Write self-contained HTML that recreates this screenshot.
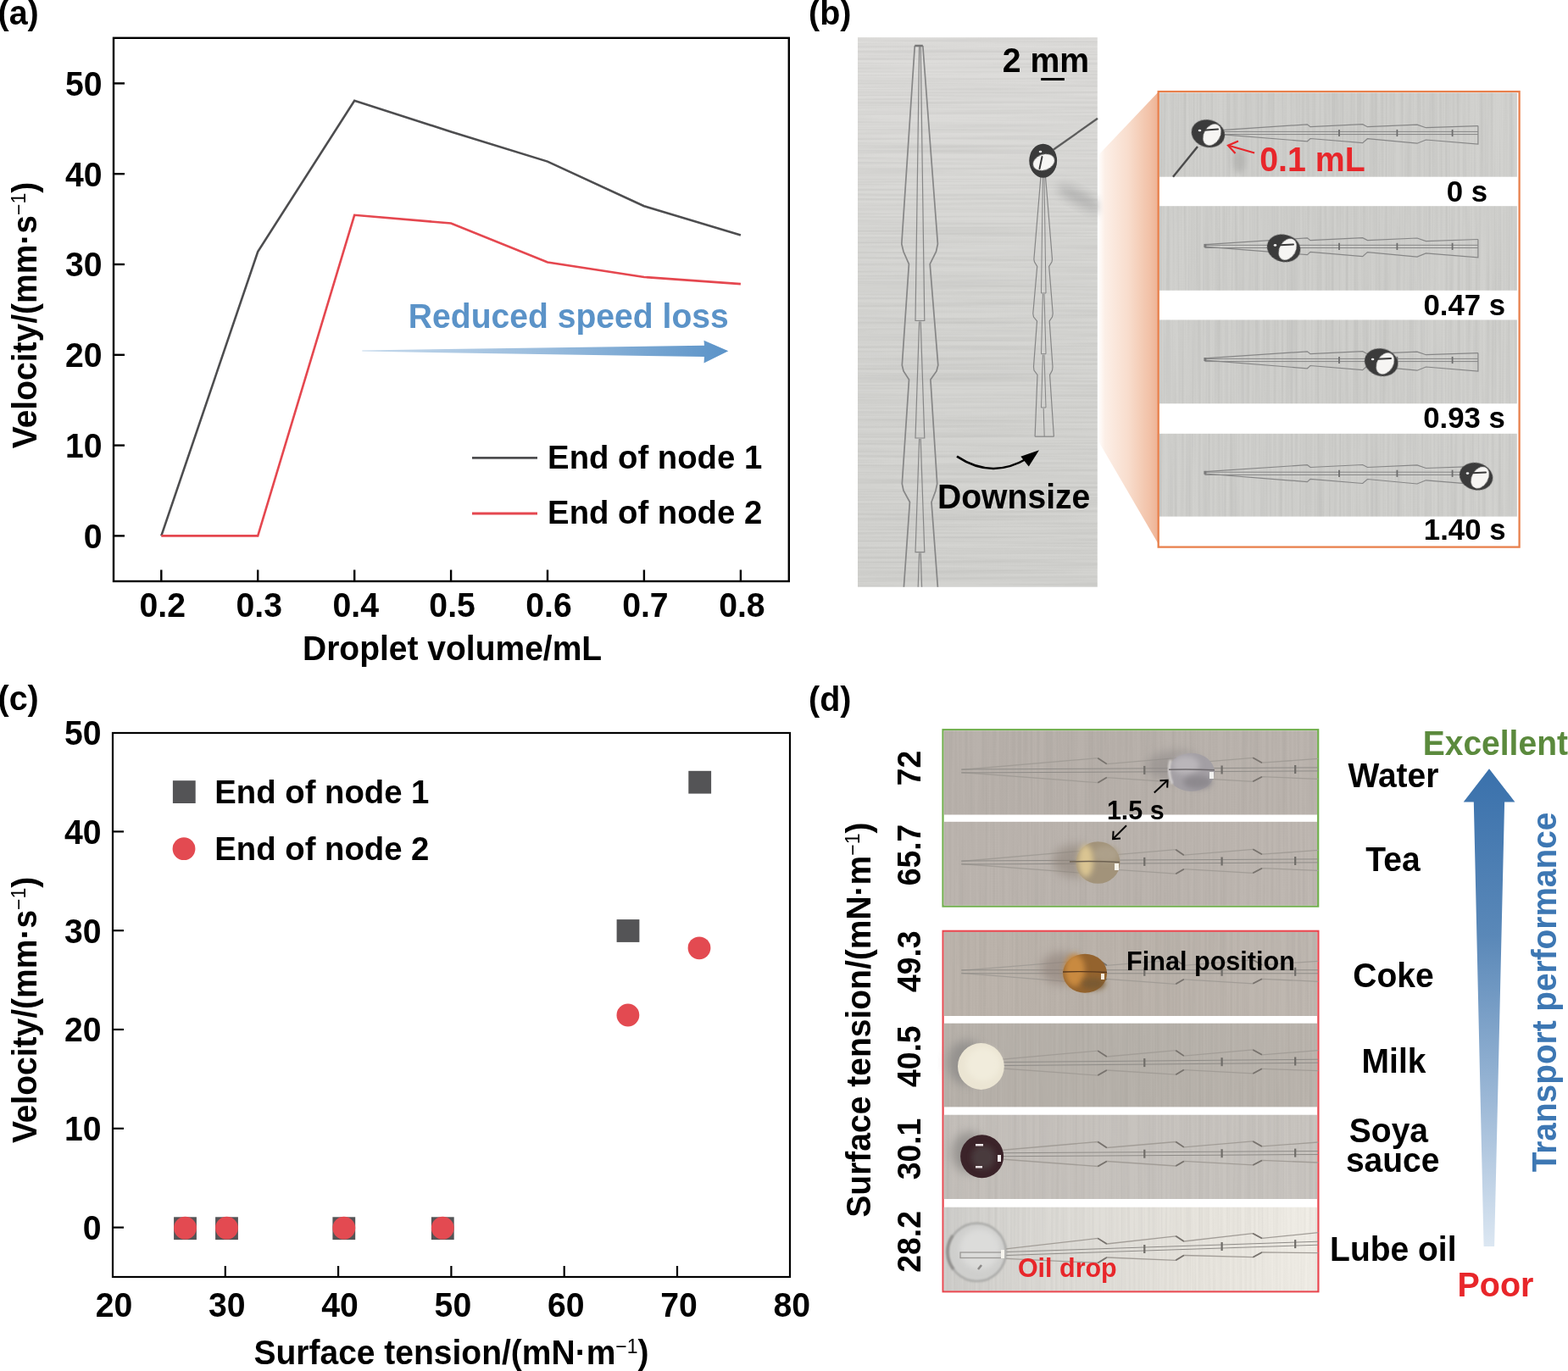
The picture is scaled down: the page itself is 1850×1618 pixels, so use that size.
<!DOCTYPE html>
<html><head><meta charset="utf-8"><title>Figure</title>
<style>
html,body{margin:0;padding:0;background:#fff;}
body{width:1850px;height:1618px;overflow:hidden;}
svg{display:block;font-family:"Liberation Sans", Arial, Helvetica, sans-serif;font-weight:bold;}
</style></head><body>
<svg width="1850" height="1618" viewBox="0 0 1850 1618">
<defs>
<linearGradient id="garr" x1="0" y1="0" x2="1" y2="0"><stop offset="0" stop-color="#5b93c8" stop-opacity="0.35"/><stop offset="0.5" stop-color="#5b93c8" stop-opacity="0.62"/><stop offset="1" stop-color="#5b93c8" stop-opacity="1"/></linearGradient>
<linearGradient id="gbl" x1="0" y1="0" x2="0" y2="1"><stop offset="0" stop-color="#dedddb"/><stop offset="0.45" stop-color="#d6d6d3"/><stop offset="1" stop-color="#d3d3d0"/></linearGradient>
<filter id="blur3" x="-50%" y="-50%" width="200%" height="200%"><feGaussianBlur stdDeviation="3"/></filter>
<filter id="blur05" x="-50%" y="-50%" width="200%" height="200%"><feGaussianBlur stdDeviation="0.6"/></filter>
<filter id="blur1" x="-50%" y="-50%" width="200%" height="200%"><feGaussianBlur stdDeviation="1"/></filter>
<filter id="blur6" x="-50%" y="-50%" width="200%" height="200%"><feGaussianBlur stdDeviation="6"/></filter>
<filter id="streakH" x="0" y="0" width="100%" height="100%"><feTurbulence type="fractalNoise" baseFrequency="0.004 0.35" numOctaves="2" seed="3" result="n"/><feColorMatrix in="n" type="matrix" values="0 0 0 0 0  0 0 0 0 0  0 0 0 0 0  0 0 0 0.12 -0.04" result="a"/><feComposite in="a" in2="SourceGraphic" operator="in"/></filter>
<filter id="streakV" x="0" y="0" width="100%" height="100%"><feTurbulence type="fractalNoise" baseFrequency="0.35 0.004" numOctaves="2" seed="5" result="n"/><feColorMatrix in="n" type="matrix" values="0 0 0 0 0  0 0 0 0 0  0 0 0 0 0  0 0 0 0.12 -0.04" result="a"/><feComposite in="a" in2="SourceGraphic" operator="in"/></filter>
<linearGradient id="gcon" x1="0" y1="0" x2="1" y2="0"><stop offset="0" stop-color="#fdf1ea" stop-opacity="0.0"/><stop offset="0.12" stop-color="#fcefe7"/><stop offset="0.5" stop-color="#f8ddcd"/><stop offset="0.85" stop-color="#f2c2a8"/><stop offset="1" stop-color="#eeb294"/></linearGradient>
<linearGradient id="gin" x1="0" y1="0" x2="1" y2="0"><stop offset="0" stop-color="#d1d1ce"/><stop offset="0.5" stop-color="#cfcfcc"/><stop offset="1" stop-color="#d2d2cf"/></linearGradient>
<linearGradient id="gdp" x1="0" y1="0" x2="1" y2="0"><stop offset="0" stop-color="#bfb9b3"/><stop offset="0.5" stop-color="#bdb6af"/><stop offset="1" stop-color="#c1bbb4"/></linearGradient>
<linearGradient id="gdl" x1="0" y1="0" x2="1" y2="0"><stop offset="0" stop-color="#cfcecb"/><stop offset="0.3" stop-color="#dddbd6"/><stop offset="0.7" stop-color="#e8e5de"/><stop offset="1" stop-color="#f1eee7"/></linearGradient>
<linearGradient id="garrow" x1="0" y1="0" x2="0" y2="1"><stop offset="0" stop-color="#3a71ac"/><stop offset="0.35" stop-color="#5a88b8"/><stop offset="0.7" stop-color="#9db9d7"/><stop offset="1" stop-color="#dce7f2"/></linearGradient>
<linearGradient id="gw" x1="0" y1="0" x2="1" y2="0"><stop offset="0" stop-color="#b9b2ac"/><stop offset="0.5" stop-color="#b8b1ab"/><stop offset="1" stop-color="#bcb5af"/></linearGradient>
<linearGradient id="gt" x1="0" y1="0" x2="1" y2="0"><stop offset="0" stop-color="#bcb5af"/><stop offset="0.5" stop-color="#bbb4ae"/><stop offset="1" stop-color="#bfb8b2"/></linearGradient>
<linearGradient id="gc" x1="0" y1="0" x2="1" y2="0"><stop offset="0" stop-color="#bcb4ac"/><stop offset="0.5" stop-color="#bbb3ab"/><stop offset="1" stop-color="#bfb8b1"/></linearGradient>
<linearGradient id="gm" x1="0" y1="0" x2="1" y2="0"><stop offset="0" stop-color="#b8b2ab"/><stop offset="0.5" stop-color="#b7b2ab"/><stop offset="1" stop-color="#bbb5ae"/></linearGradient>
<linearGradient id="gs" x1="0" y1="0" x2="1" y2="0"><stop offset="0" stop-color="#c4bfba"/><stop offset="0.5" stop-color="#c7c3be"/><stop offset="1" stop-color="#c9c5c0"/></linearGradient>
</defs>
<rect width="1850" height="1618" fill="#fff"/>
<rect x="134.0" y="44.8" width="796.8" height="641.2" fill="none" stroke="#000" stroke-width="2.4"/>
<line x1="134.0" y1="632.4" x2="147.0" y2="632.4" stroke="#000" stroke-width="2.4" />
<text transform="translate(120.5,646.8) scale(0.975,1)" font-size="40.21" text-anchor="end" fill="#000" >0</text>
<line x1="134.0" y1="525.6" x2="147.0" y2="525.6" stroke="#000" stroke-width="2.4" />
<text transform="translate(120.5,540.0) scale(0.975,1)" font-size="40.21" text-anchor="end" fill="#000" >10</text>
<line x1="134.0" y1="418.8" x2="147.0" y2="418.8" stroke="#000" stroke-width="2.4" />
<text transform="translate(120.5,433.2) scale(0.975,1)" font-size="40.21" text-anchor="end" fill="#000" >20</text>
<line x1="134.0" y1="312.0" x2="147.0" y2="312.0" stroke="#000" stroke-width="2.4" />
<text transform="translate(120.5,326.4) scale(0.975,1)" font-size="40.21" text-anchor="end" fill="#000" >30</text>
<line x1="134.0" y1="205.2" x2="147.0" y2="205.2" stroke="#000" stroke-width="2.4" />
<text transform="translate(120.5,219.6) scale(0.975,1)" font-size="40.21" text-anchor="end" fill="#000" >40</text>
<line x1="134.0" y1="98.4" x2="147.0" y2="98.4" stroke="#000" stroke-width="2.4" />
<text transform="translate(120.5,112.8) scale(0.975,1)" font-size="40.21" text-anchor="end" fill="#000" >50</text>
<line x1="190.3" y1="686.0" x2="190.3" y2="672.5" stroke="#000" stroke-width="2.4" />
<text transform="translate(191.8,728.2) scale(0.975,1)" font-size="40.21" text-anchor="middle" fill="#000" >0.2</text>
<line x1="304.2" y1="686.0" x2="304.2" y2="672.5" stroke="#000" stroke-width="2.4" />
<text transform="translate(305.7,728.2) scale(0.975,1)" font-size="40.21" text-anchor="middle" fill="#000" >0.3</text>
<line x1="418.2" y1="686.0" x2="418.2" y2="672.5" stroke="#000" stroke-width="2.4" />
<text transform="translate(419.7,728.2) scale(0.975,1)" font-size="40.21" text-anchor="middle" fill="#000" >0.4</text>
<line x1="532.1" y1="686.0" x2="532.1" y2="672.5" stroke="#000" stroke-width="2.4" />
<text transform="translate(533.6,728.2) scale(0.975,1)" font-size="40.21" text-anchor="middle" fill="#000" >0.5</text>
<line x1="646.0" y1="686.0" x2="646.0" y2="672.5" stroke="#000" stroke-width="2.4" />
<text transform="translate(647.5,728.2) scale(0.975,1)" font-size="40.21" text-anchor="middle" fill="#000" >0.6</text>
<line x1="759.9" y1="686.0" x2="759.9" y2="672.5" stroke="#000" stroke-width="2.4" />
<text transform="translate(761.4,728.2) scale(0.975,1)" font-size="40.21" text-anchor="middle" fill="#000" >0.7</text>
<line x1="873.9" y1="686.0" x2="873.9" y2="672.5" stroke="#000" stroke-width="2.4" />
<text transform="translate(875.4,728.2) scale(0.975,1)" font-size="40.21" text-anchor="middle" fill="#000" >0.8</text>
<text transform="translate(43.0,372.0) rotate(-90) scale(0.975,1)" font-size="40.00" text-anchor="middle" fill="#000" >Velocity/(mm&#183;s<tspan dy="-13" font-size="23.59" font-weight="normal">&#8722;1</tspan><tspan dy="13">)</tspan></text>
<text transform="translate(533.6,778.9) scale(0.975,1)" font-size="40.00" text-anchor="middle" fill="#000" >Droplet volume/mL</text>
<polyline points="190.3,632.4 304.2,297.0 418.2,118.7 532.1,155.4 646.0,190.6 759.9,243.2 873.9,277.6" fill="none" stroke="#4d4d4f" stroke-width="2.6" stroke-linejoin="miter" />
<polyline points="190.3,632.4 304.2,632.4 418.2,253.8 532.1,263.5 646.0,309.5 759.9,327.0 873.9,335.1" fill="none" stroke="#e5474f" stroke-width="2.6" stroke-linejoin="miter" />
<line x1="557.0" y1="540.4" x2="634.0" y2="540.4" stroke="#4d4d4f" stroke-width="2.8" />
<line x1="557.0" y1="606.0" x2="634.0" y2="606.0" stroke="#e5474f" stroke-width="2.8" />
<text transform="translate(646.1,553.0) scale(0.975,1)" font-size="39.28" text-anchor="start" fill="#000" >End of node 1</text>
<text transform="translate(646.1,618.0) scale(0.975,1)" font-size="39.28" text-anchor="start" fill="#000" >End of node 2</text>
<text transform="translate(481.8,386.5) scale(0.975,1)" font-size="40.10" text-anchor="start" fill="#5b93c8" >Reduced speed loss</text>
<path d="M427.3,413.4 L831,407.8 L830.5,401.7 L859.3,414.3 L830.5,428.4 L831,421.0 L427.3,414.6 Z" fill="url(#garr)"/>
<text transform="translate(-2.5,28.6) scale(0.975,1)" font-size="40.51" text-anchor="start" fill="#000" >(a)</text>
<text transform="translate(954.0,28.6) scale(0.975,1)" font-size="40.51" text-anchor="start" fill="#000" >(b)</text>
<text transform="translate(-2.5,838.3) scale(0.975,1)" font-size="40.51" text-anchor="start" fill="#000" >(c)</text>
<text transform="translate(954.0,838.8) scale(0.975,1)" font-size="40.51" text-anchor="start" fill="#000" >(d)</text>
<rect x="133.0" y="865.0" width="799.0" height="642.0" fill="none" stroke="#000" stroke-width="2.2"/>
<line x1="133.0" y1="1448.6" x2="146.0" y2="1448.6" stroke="#000" stroke-width="2.2" />
<text transform="translate(119.5,1463.0) scale(0.975,1)" font-size="40.21" text-anchor="end" fill="#000" >0</text>
<line x1="133.0" y1="1331.8" x2="146.0" y2="1331.8" stroke="#000" stroke-width="2.2" />
<text transform="translate(119.5,1346.2) scale(0.975,1)" font-size="40.21" text-anchor="end" fill="#000" >10</text>
<line x1="133.0" y1="1215.0" x2="146.0" y2="1215.0" stroke="#000" stroke-width="2.2" />
<text transform="translate(119.5,1229.4) scale(0.975,1)" font-size="40.21" text-anchor="end" fill="#000" >20</text>
<line x1="133.0" y1="1098.2" x2="146.0" y2="1098.2" stroke="#000" stroke-width="2.2" />
<text transform="translate(119.5,1112.6) scale(0.975,1)" font-size="40.21" text-anchor="end" fill="#000" >30</text>
<line x1="133.0" y1="981.4" x2="146.0" y2="981.4" stroke="#000" stroke-width="2.2" />
<text transform="translate(119.5,995.8) scale(0.975,1)" font-size="40.21" text-anchor="end" fill="#000" >40</text>
<text transform="translate(119.5,879.0) scale(0.975,1)" font-size="40.21" text-anchor="end" fill="#000" >50</text>
<text transform="translate(134.5,1553.6) scale(0.975,1)" font-size="40.21" text-anchor="middle" fill="#000" >20</text>
<line x1="265.8" y1="1507.0" x2="265.8" y2="1494.0" stroke="#000" stroke-width="2.2" />
<text transform="translate(267.8,1553.6) scale(0.975,1)" font-size="40.21" text-anchor="middle" fill="#000" >30</text>
<line x1="399.1" y1="1507.0" x2="399.1" y2="1494.0" stroke="#000" stroke-width="2.2" />
<text transform="translate(401.1,1553.6) scale(0.975,1)" font-size="40.21" text-anchor="middle" fill="#000" >40</text>
<line x1="532.4" y1="1507.0" x2="532.4" y2="1494.0" stroke="#000" stroke-width="2.2" />
<text transform="translate(534.4,1553.6) scale(0.975,1)" font-size="40.21" text-anchor="middle" fill="#000" >50</text>
<line x1="665.7" y1="1507.0" x2="665.7" y2="1494.0" stroke="#000" stroke-width="2.2" />
<text transform="translate(667.7,1553.6) scale(0.975,1)" font-size="40.21" text-anchor="middle" fill="#000" >60</text>
<line x1="799.0" y1="1507.0" x2="799.0" y2="1494.0" stroke="#000" stroke-width="2.2" />
<text transform="translate(801.0,1553.6) scale(0.975,1)" font-size="40.21" text-anchor="middle" fill="#000" >70</text>
<text transform="translate(934.3,1553.6) scale(0.975,1)" font-size="40.21" text-anchor="middle" fill="#000" >80</text>
<text transform="translate(43.0,1191.9) rotate(-90) scale(0.975,1)" font-size="40.00" text-anchor="middle" fill="#000" >Velocity/(mm&#183;s<tspan dy="-13" font-size="23.59" font-weight="normal">&#8722;1</tspan><tspan dy="13">)</tspan></text>
<text transform="translate(532.5,1609.5) scale(0.975,1)" font-size="40.00" text-anchor="middle" fill="#000" >Surface tension/(mN&#183;m<tspan dy="-13" font-size="23.59" font-weight="normal">&#8722;1</tspan><tspan dy="13">)</tspan></text>
<rect x="205.1" y="1436.3" width="26.8" height="26.8" fill="#545456"/>
<circle cx="218.5" cy="1449.2" r="13.4" fill="#e34a51"/>
<rect x="254.1" y="1436.3" width="26.8" height="26.8" fill="#545456"/>
<circle cx="267.5" cy="1449.2" r="13.4" fill="#e34a51"/>
<rect x="392.4" y="1436.3" width="26.8" height="26.8" fill="#545456"/>
<circle cx="405.8" cy="1449.2" r="13.4" fill="#e34a51"/>
<rect x="508.9" y="1436.3" width="26.8" height="26.8" fill="#545456"/>
<circle cx="522.3" cy="1449.2" r="13.4" fill="#e34a51"/>
<rect x="727.6" y="1085.1" width="26.8" height="26.8" fill="#545456"/>
<rect x="812.3" y="909.8" width="26.8" height="26.8" fill="#545456"/>
<circle cx="825.0" cy="1118.8" r="13.4" fill="#e34a51"/>
<circle cx="740.9" cy="1198.0" r="13.4" fill="#e34a51"/>
<rect x="203.9" y="921.2" width="26.8" height="26.8" fill="#545456"/>
<circle cx="217.0" cy="1001.7" r="13.4" fill="#e34a51"/>
<text transform="translate(253.3,948.1) scale(0.975,1)" font-size="39.28" text-anchor="start" fill="#000" >End of node 1</text>
<text transform="translate(253.3,1015.0) scale(0.975,1)" font-size="39.28" text-anchor="start" fill="#000" >End of node 2</text>
<rect x="1012.0" y="44.1" width="282.8" height="648.6" fill="url(#gbl)"/>
<rect x="1012.0" y="44.1" width="282.8" height="648.6" fill="#000" filter="url(#streakH)"/>
<polyline points="1079.3,54.0 1063.8,288.0 1066.0,297.0 1072.4,311.6 1064.3,431.0 1066.0,438.0 1072.5,448.0 1064.3,571.0 1066.0,579.0 1073.4,592.5 1066.4,692.7" fill="none" stroke="#868686" stroke-width="1.7" stroke-linejoin="miter" />
<polyline points="1088.8,54.0 1106.4,288.0 1104.5,297.0 1097.2,311.6 1106.8,431.0 1105.0,438.0 1097.9,448.0 1105.7,571.0 1104.0,579.0 1099.0,592.5 1106.4,692.7" fill="none" stroke="#868686" stroke-width="1.7" stroke-linejoin="miter" />
<line x1="1079.3" y1="54.0" x2="1088.8" y2="54.0" stroke="#777" stroke-width="2.5" />
<polyline points="1084.6,55 1080.0,378.5 1090.8,378.5 1086.2,55" fill="none" stroke="#868686" stroke-width="1.2"/>
<polyline points="1084.6,379.5 1080.0,517 1090.8,517 1086.2,379.5" fill="none" stroke="#868686" stroke-width="1.2"/>
<polyline points="1084.6,518 1080.0,651.6 1090.8,651.6 1086.2,518" fill="none" stroke="#868686" stroke-width="1.2"/>
<polyline points="1084.6,652.6 1083.2,692.7" fill="none" stroke="#868686" stroke-width="1.2"/>
<polyline points="1086.2,652.6 1087.6,692.7" fill="none" stroke="#868686" stroke-width="1.2"/>
<polyline points="1228.0,208.0 1219.9,306.0 1220.5,309.0 1223.7,314.4 1218.8,370.0 1219.5,374.0 1223.5,379.0 1219.5,433.0 1220.0,437.0 1224.0,442.4 1221.1,515.2" fill="none" stroke="#868686" stroke-width="1.2" stroke-linejoin="miter" />
<polyline points="1233.5,208.0 1241.5,306.0 1241.0,309.0 1237.7,314.4 1242.2,370.0 1241.5,374.0 1238.2,379.0 1242.0,433.0 1241.5,437.0 1238.6,442.4 1243.4,515.2" fill="none" stroke="#868686" stroke-width="1.2" stroke-linejoin="miter" />
<line x1="1221.1" y1="515.2" x2="1243.4" y2="515.2" stroke="#868686" stroke-width="1.2" />
<polyline points="1230.4,208 1228.5,346 1234.0,346 1232.0,208" fill="none" stroke="#868686" stroke-width="1.0"/>
<polyline points="1230.4,347 1228.5,417.7 1234.0,417.7 1232.0,347" fill="none" stroke="#868686" stroke-width="1.0"/>
<polyline points="1230.4,418.7 1228.5,481 1234.0,481 1232.0,418.7" fill="none" stroke="#868686" stroke-width="1.0"/>
<line x1="1231.2" y1="482.0" x2="1232.2" y2="515.0" stroke="#868686" stroke-width="1.0" />
<ellipse cx="1274" cy="234" rx="30" ry="8" transform="rotate(28 1274 234)" fill="#9a9a9a" opacity="0.55" filter="url(#blur6)"/>
<line x1="1243.0" y1="176.5" x2="1295.0" y2="139.8" stroke="#5c5c5c" stroke-width="2.3" />
<ellipse cx="1230.7" cy="189.7" rx="16.4" ry="20" transform="rotate(0 1230.7 189.7)" fill="#3a3a3a" filter="url(#blur05)"/>
<ellipse cx="1231.5" cy="191.5" rx="13" ry="9.2" transform="rotate(-20 1231.5 191.5)" fill="#f6f5f3" filter="url(#blur05)"/>
<path d="M1229.5,185 L1226.5,199" fill="none" stroke="#3a3a3a" stroke-width="2" stroke-linecap="round"/>
<ellipse cx="1227.5" cy="179" rx="1.8" ry="1.3" fill="#f0f0f0"/>
<text transform="translate(1182.7,85.3) scale(0.975,1)" font-size="40.21" text-anchor="start" fill="#000" >2 mm</text>
<line x1="1228.2" y1="93.5" x2="1255.9" y2="93.5" stroke="#000" stroke-width="3.0" />
<path d="M1129,538.7 Q1170,566 1212,541" fill="none" stroke="#000" stroke-width="2.6"/>
<path d="M1226,531.3 L1204.3,538.8 L1213.8,550.6 Z" fill="#000"/>
<text transform="translate(1106.0,600.3) scale(0.975,1)" font-size="40.10" text-anchor="start" fill="#000" >Downsize</text>
<polygon points="1295,184 1366.7,108.5 1366.7,642 1295,519" fill="url(#gcon)"/>
<rect x="1366.7" y="108.1" width="425.9" height="537.5" fill="#fff" stroke="#e8804c" stroke-width="2.3"/>
<rect x="1368" y="109.5" width="421.9" height="99.2" fill="url(#gin)"/>
<rect x="1368" y="109.5" width="421.9" height="99.2" fill="#000" filter="url(#streakV)"/>
<rect x="1368" y="243.2" width="421.9" height="99.6" fill="url(#gin)"/>
<rect x="1368" y="243.2" width="421.9" height="99.6" fill="#000" filter="url(#streakV)"/>
<rect x="1368" y="377.5" width="421.9" height="98.8" fill="url(#gin)"/>
<rect x="1368" y="377.5" width="421.9" height="98.8" fill="#000" filter="url(#streakV)"/>
<rect x="1368" y="511.8" width="421.9" height="97.8" fill="url(#gin)"/>
<rect x="1368" y="511.8" width="421.9" height="97.8" fill="#000" filter="url(#streakV)"/>
<polyline points="1421.4,154.8 1542.4,146.9 1546.0,149.7 1607.7,146.7 1613.4,149.7 1672.0,147.1 1682.4,150.7 1743.9,148.6" fill="none" stroke="#868686" stroke-width="1.2" stroke-linejoin="miter" />
<polyline points="1421.4,157.2 1542.4,166.8 1546.0,163.5 1607.7,168.7 1613.4,163.7 1672.0,169.2 1682.4,165.0 1743.9,170.0 1743.9,148.6" fill="none" stroke="#868686" stroke-width="1.2" stroke-linejoin="miter" />
<polyline points="1421.4,155.4 1580.0,155.4" fill="none" stroke="#868686" stroke-width="1.0" stroke-linejoin="miter" />
<polyline points="1421.4,158.6 1580.0,158.6" fill="none" stroke="#868686" stroke-width="1.0" stroke-linejoin="miter" />
<polyline points="1580.0,155.4 1648.4,155.4" fill="none" stroke="#868686" stroke-width="1.0" stroke-linejoin="miter" />
<polyline points="1580.0,158.6 1648.4,158.6" fill="none" stroke="#868686" stroke-width="1.0" stroke-linejoin="miter" />
<polyline points="1648.4,155.4 1713.6,155.4" fill="none" stroke="#868686" stroke-width="1.0" stroke-linejoin="miter" />
<polyline points="1648.4,158.6 1713.6,158.6" fill="none" stroke="#868686" stroke-width="1.0" stroke-linejoin="miter" />
<polyline points="1713.6,155.4 1743.9,155.4" fill="none" stroke="#868686" stroke-width="1.0" stroke-linejoin="miter" />
<polyline points="1713.6,158.6 1743.9,158.6" fill="none" stroke="#868686" stroke-width="1.0" stroke-linejoin="miter" />
<line x1="1580.0" y1="152.9" x2="1580.0" y2="161.1" stroke="#6e6e6e" stroke-width="1.8" />
<line x1="1648.4" y1="152.9" x2="1648.4" y2="161.1" stroke="#6e6e6e" stroke-width="1.8" />
<line x1="1713.6" y1="152.9" x2="1713.6" y2="161.1" stroke="#6e6e6e" stroke-width="1.8" />
<line x1="1420.4" y1="156.0" x2="1423.4" y2="156.0" stroke="#7a7a7a" stroke-width="4" />
<polyline points="1421.4,288.7 1542.4,280.8 1546.0,283.6 1607.7,280.6 1613.4,283.6 1672.0,281.0 1682.4,284.6 1743.9,282.5" fill="none" stroke="#868686" stroke-width="1.2" stroke-linejoin="miter" />
<polyline points="1421.4,291.1 1542.4,300.7 1546.0,297.4 1607.7,302.6 1613.4,297.6 1672.0,303.1 1682.4,298.9 1743.9,303.9 1743.9,282.5" fill="none" stroke="#868686" stroke-width="1.2" stroke-linejoin="miter" />
<polyline points="1421.4,289.3 1580.0,289.3" fill="none" stroke="#868686" stroke-width="1.0" stroke-linejoin="miter" />
<polyline points="1421.4,292.5 1580.0,292.5" fill="none" stroke="#868686" stroke-width="1.0" stroke-linejoin="miter" />
<polyline points="1580.0,289.3 1648.4,289.3" fill="none" stroke="#868686" stroke-width="1.0" stroke-linejoin="miter" />
<polyline points="1580.0,292.5 1648.4,292.5" fill="none" stroke="#868686" stroke-width="1.0" stroke-linejoin="miter" />
<polyline points="1648.4,289.3 1713.6,289.3" fill="none" stroke="#868686" stroke-width="1.0" stroke-linejoin="miter" />
<polyline points="1648.4,292.5 1713.6,292.5" fill="none" stroke="#868686" stroke-width="1.0" stroke-linejoin="miter" />
<polyline points="1713.6,289.3 1743.9,289.3" fill="none" stroke="#868686" stroke-width="1.0" stroke-linejoin="miter" />
<polyline points="1713.6,292.5 1743.9,292.5" fill="none" stroke="#868686" stroke-width="1.0" stroke-linejoin="miter" />
<line x1="1580.0" y1="286.8" x2="1580.0" y2="295.0" stroke="#6e6e6e" stroke-width="1.8" />
<line x1="1648.4" y1="286.8" x2="1648.4" y2="295.0" stroke="#6e6e6e" stroke-width="1.8" />
<line x1="1713.6" y1="286.8" x2="1713.6" y2="295.0" stroke="#6e6e6e" stroke-width="1.8" />
<line x1="1420.4" y1="289.9" x2="1423.4" y2="289.9" stroke="#7a7a7a" stroke-width="4" />
<polyline points="1421.4,422.8 1542.4,414.9 1546.0,417.7 1607.7,414.7 1613.4,417.7 1672.0,415.1 1682.4,418.7 1743.9,416.6" fill="none" stroke="#868686" stroke-width="1.2" stroke-linejoin="miter" />
<polyline points="1421.4,425.2 1542.4,434.8 1546.0,431.5 1607.7,436.7 1613.4,431.7 1672.0,437.2 1682.4,433.0 1743.9,438.0 1743.9,416.6" fill="none" stroke="#868686" stroke-width="1.2" stroke-linejoin="miter" />
<polyline points="1421.4,423.4 1580.0,423.4" fill="none" stroke="#868686" stroke-width="1.0" stroke-linejoin="miter" />
<polyline points="1421.4,426.6 1580.0,426.6" fill="none" stroke="#868686" stroke-width="1.0" stroke-linejoin="miter" />
<polyline points="1580.0,423.4 1648.4,423.4" fill="none" stroke="#868686" stroke-width="1.0" stroke-linejoin="miter" />
<polyline points="1580.0,426.6 1648.4,426.6" fill="none" stroke="#868686" stroke-width="1.0" stroke-linejoin="miter" />
<polyline points="1648.4,423.4 1713.6,423.4" fill="none" stroke="#868686" stroke-width="1.0" stroke-linejoin="miter" />
<polyline points="1648.4,426.6 1713.6,426.6" fill="none" stroke="#868686" stroke-width="1.0" stroke-linejoin="miter" />
<polyline points="1713.6,423.4 1743.9,423.4" fill="none" stroke="#868686" stroke-width="1.0" stroke-linejoin="miter" />
<polyline points="1713.6,426.6 1743.9,426.6" fill="none" stroke="#868686" stroke-width="1.0" stroke-linejoin="miter" />
<line x1="1580.0" y1="420.9" x2="1580.0" y2="429.1" stroke="#6e6e6e" stroke-width="1.8" />
<line x1="1648.4" y1="420.9" x2="1648.4" y2="429.1" stroke="#6e6e6e" stroke-width="1.8" />
<line x1="1713.6" y1="420.9" x2="1713.6" y2="429.1" stroke="#6e6e6e" stroke-width="1.8" />
<line x1="1420.4" y1="424.0" x2="1423.4" y2="424.0" stroke="#7a7a7a" stroke-width="4" />
<polyline points="1421.4,556.6 1542.4,548.7 1546.0,551.5 1607.7,548.5 1613.4,551.5 1672.0,548.9 1682.4,552.5 1743.9,550.4" fill="none" stroke="#868686" stroke-width="1.2" stroke-linejoin="miter" />
<polyline points="1421.4,559.0 1542.4,568.6 1546.0,565.3 1607.7,570.5 1613.4,565.5 1672.0,571.0 1682.4,566.8 1743.9,571.8 1743.9,550.4" fill="none" stroke="#868686" stroke-width="1.2" stroke-linejoin="miter" />
<polyline points="1421.4,557.2 1580.0,557.2" fill="none" stroke="#868686" stroke-width="1.0" stroke-linejoin="miter" />
<polyline points="1421.4,560.4 1580.0,560.4" fill="none" stroke="#868686" stroke-width="1.0" stroke-linejoin="miter" />
<polyline points="1580.0,557.2 1648.4,557.2" fill="none" stroke="#868686" stroke-width="1.0" stroke-linejoin="miter" />
<polyline points="1580.0,560.4 1648.4,560.4" fill="none" stroke="#868686" stroke-width="1.0" stroke-linejoin="miter" />
<polyline points="1648.4,557.2 1713.6,557.2" fill="none" stroke="#868686" stroke-width="1.0" stroke-linejoin="miter" />
<polyline points="1648.4,560.4 1713.6,560.4" fill="none" stroke="#868686" stroke-width="1.0" stroke-linejoin="miter" />
<polyline points="1713.6,557.2 1743.9,557.2" fill="none" stroke="#868686" stroke-width="1.0" stroke-linejoin="miter" />
<polyline points="1713.6,560.4 1743.9,560.4" fill="none" stroke="#868686" stroke-width="1.0" stroke-linejoin="miter" />
<line x1="1580.0" y1="554.7" x2="1580.0" y2="562.9" stroke="#6e6e6e" stroke-width="1.8" />
<line x1="1648.4" y1="554.7" x2="1648.4" y2="562.9" stroke="#6e6e6e" stroke-width="1.8" />
<line x1="1713.6" y1="554.7" x2="1713.6" y2="562.9" stroke="#6e6e6e" stroke-width="1.8" />
<line x1="1420.4" y1="557.8" x2="1423.4" y2="557.8" stroke="#7a7a7a" stroke-width="4" />
<ellipse cx="1462" cy="190" rx="7" ry="14" fill="#9c9c9a" opacity="0.45" filter="url(#blur3)"/>
<ellipse cx="1425.4" cy="157.6" rx="19.9" ry="16.2" transform="rotate(15 1425.4 157.6)" fill="#3a3a3a" filter="url(#blur05)"/>
<ellipse cx="1430.0" cy="159.0" rx="9.5" ry="13.5" transform="rotate(30 1430.0 159.0)" fill="#f6f5f3" filter="url(#blur05)"/>
<path d="M1416,154 L1437,152.5" fill="none" stroke="#3a3a3a" stroke-width="2" stroke-linecap="round"/>
<ellipse cx="1415.5" cy="154.0" rx="1.8" ry="1.3" fill="#f0f0f0"/>
<line x1="1413.0" y1="173.0" x2="1384.0" y2="208.7" stroke="#4a4a4a" stroke-width="2.4" />
<ellipse cx="1514.6" cy="292.9" rx="19.9" ry="16.0" transform="rotate(15 1514.6 292.9)" fill="#3a3a3a" filter="url(#blur05)"/>
<ellipse cx="1519.2" cy="294.2" rx="9.5" ry="13.5" transform="rotate(30 1519.2 294.2)" fill="#f6f5f3" filter="url(#blur05)"/>
<path d="M1505,289.4 L1526,288.5" fill="none" stroke="#3a3a3a" stroke-width="2" stroke-linecap="round"/>
<ellipse cx="1504.5" cy="289.4" rx="1.8" ry="1.3" fill="#f0f0f0"/>
<ellipse cx="1629.7" cy="427.6" rx="19.9" ry="16.2" transform="rotate(15 1629.7 427.6)" fill="#3a3a3a" filter="url(#blur05)"/>
<ellipse cx="1634.3" cy="429.0" rx="9.5" ry="13.5" transform="rotate(30 1634.3 429.0)" fill="#f6f5f3" filter="url(#blur05)"/>
<path d="M1620,424 L1641,423" fill="none" stroke="#3a3a3a" stroke-width="2" stroke-linecap="round"/>
<ellipse cx="1619.6" cy="424.0" rx="1.8" ry="1.3" fill="#f0f0f0"/>
<ellipse cx="1741.6" cy="562.2" rx="19.9" ry="16.0" transform="rotate(15 1741.6 562.2)" fill="#3a3a3a" filter="url(#blur05)"/>
<ellipse cx="1746.2" cy="563.6" rx="9.5" ry="13.5" transform="rotate(30 1746.2 563.6)" fill="#f6f5f3" filter="url(#blur05)"/>
<path d="M1732,558.6 L1753,557.6" fill="none" stroke="#3a3a3a" stroke-width="2" stroke-linecap="round"/>
<ellipse cx="1731.5" cy="558.6" rx="1.8" ry="1.3" fill="#f0f0f0"/>
<text transform="translate(1486.2,201.9) scale(0.975,1)" font-size="40.31" text-anchor="start" fill="#e8262a" >0.1 mL</text>
<line x1="1480.1" y1="180.5" x2="1450.5" y2="172.0" stroke="#e8262a" stroke-width="2.2" />
<polyline points="1461,166.5 1449,171.7 1457.5,181" fill="none" stroke="#e8262a" stroke-width="2.2"/>
<text transform="translate(1730.8,237.8) scale(0.975,1)" font-size="35.69" text-anchor="middle" fill="#000" >0 s</text>
<text transform="translate(1727.8,371.5) scale(0.975,1)" font-size="35.69" text-anchor="middle" fill="#000" >0.47 s</text>
<text transform="translate(1727.6,504.5) scale(0.975,1)" font-size="35.69" text-anchor="middle" fill="#000" >0.93 s</text>
<text transform="translate(1728.2,637.4) scale(0.975,1)" font-size="35.69" text-anchor="middle" fill="#000" >1.40 s</text>
<rect x="1112.5" y="861.2" width="442.7" height="208.4" fill="#fff" stroke="#6fae4b" stroke-width="2.2"/>
<rect x="1112.6" y="1098.8" width="442.8" height="425.5" fill="#fff" stroke="#e8474f" stroke-width="2.2"/>
<rect x="1113.6" y="862.3" width="440.4" height="99.2" fill="url(#gw)"/>
<rect x="1113.6" y="862.3" width="440.4" height="99.2" fill="#000" filter="url(#streakV)" opacity="0.7"/>
<rect x="1113.6" y="969.8" width="440.4" height="98.8" fill="url(#gt)"/>
<rect x="1113.6" y="969.8" width="440.4" height="98.8" fill="#000" filter="url(#streakV)" opacity="0.7"/>
<rect x="1113.6" y="1099.9" width="440.4" height="99.1" fill="url(#gc)"/>
<rect x="1113.6" y="1099.9" width="440.4" height="99.1" fill="#000" filter="url(#streakV)" opacity="0.7"/>
<rect x="1113.6" y="1207.7" width="440.4" height="98.7" fill="url(#gm)"/>
<rect x="1113.6" y="1207.7" width="440.4" height="98.7" fill="#000" filter="url(#streakV)" opacity="0.7"/>
<rect x="1113.6" y="1315.7" width="440.4" height="99.3" fill="url(#gs)"/>
<rect x="1113.6" y="1315.7" width="440.4" height="99.3" fill="#000" filter="url(#streakV)" opacity="0.7"/>
<rect x="1113.6" y="1424.7" width="440.4" height="98.5" fill="url(#gdl)"/>
<rect x="1113.6" y="1424.7" width="440.4" height="98.5" fill="#000" filter="url(#streakV)" opacity="0.7"/>
<polyline points="1134.3,908.5 1295.3,894.7 1305.8,901.6 1387.3,894.7 1396.8,901.2 1478.3,894.3 1488.9,900.2 1555.3,895.4" fill="none" stroke="#a29d97" stroke-width="1.3" stroke-linejoin="miter" />
<polyline points="1134.3,911.5 1295.3,923.7 1305.8,917.6 1387.3,923.2 1396.8,917.7 1478.3,922.3 1488.9,916.7 1555.3,919.4" fill="none" stroke="#a29d97" stroke-width="1.3" stroke-linejoin="miter" />
<polyline points="1295.3,894.7 1305.8,901.6" fill="none" stroke="#77726d" stroke-width="1.7" stroke-linejoin="miter" />
<polyline points="1387.3,894.7 1396.8,901.2" fill="none" stroke="#77726d" stroke-width="1.7" stroke-linejoin="miter" />
<polyline points="1478.3,894.3 1488.9,900.2" fill="none" stroke="#77726d" stroke-width="1.7" stroke-linejoin="miter" />
<polyline points="1295.3,923.7 1305.8,917.6" fill="none" stroke="#77726d" stroke-width="1.7" stroke-linejoin="miter" />
<polyline points="1387.3,923.2 1396.8,917.7" fill="none" stroke="#77726d" stroke-width="1.7" stroke-linejoin="miter" />
<polyline points="1478.3,922.3 1488.9,916.7" fill="none" stroke="#77726d" stroke-width="1.7" stroke-linejoin="miter" />
<polyline points="1134.3,908.0 1350.3,906.9" fill="none" stroke="#8f8c88" stroke-width="1.0" stroke-linejoin="miter" />
<polyline points="1134.3,912.0 1350.3,910.9" fill="none" stroke="#8f8c88" stroke-width="1.0" stroke-linejoin="miter" />
<polyline points="1350.3,906.9 1441.6,906.5" fill="none" stroke="#8f8c88" stroke-width="1.0" stroke-linejoin="miter" />
<polyline points="1350.3,910.9 1441.6,910.5" fill="none" stroke="#8f8c88" stroke-width="1.0" stroke-linejoin="miter" />
<polyline points="1441.6,906.5 1528.2,906.0" fill="none" stroke="#8f8c88" stroke-width="1.0" stroke-linejoin="miter" />
<polyline points="1441.6,910.5 1528.2,910.0" fill="none" stroke="#8f8c88" stroke-width="1.0" stroke-linejoin="miter" />
<polyline points="1528.2,906.0 1555.3,905.9" fill="none" stroke="#8f8c88" stroke-width="1.0" stroke-linejoin="miter" />
<polyline points="1528.2,910.0 1555.3,909.9" fill="none" stroke="#8f8c88" stroke-width="1.0" stroke-linejoin="miter" />
<line x1="1350.3" y1="903.9" x2="1350.3" y2="913.9" stroke="#6f6c68" stroke-width="2.2" />
<line x1="1441.6" y1="903.5" x2="1441.6" y2="913.5" stroke="#6f6c68" stroke-width="2.2" />
<line x1="1528.2" y1="903.0" x2="1528.2" y2="913.0" stroke="#6f6c68" stroke-width="2.2" />
<polyline points="1134.3,1016.5 1295.3,1002.7 1305.8,1009.6 1387.3,1002.7 1396.8,1009.2 1478.3,1002.3 1488.9,1008.2 1555.3,1003.4" fill="none" stroke="#a29d97" stroke-width="1.3" stroke-linejoin="miter" />
<polyline points="1134.3,1019.5 1295.3,1031.7 1305.8,1025.6 1387.3,1031.2 1396.8,1025.7 1478.3,1030.3 1488.9,1024.7 1555.3,1027.4" fill="none" stroke="#a29d97" stroke-width="1.3" stroke-linejoin="miter" />
<polyline points="1295.3,1002.7 1305.8,1009.6" fill="none" stroke="#77726d" stroke-width="1.7" stroke-linejoin="miter" />
<polyline points="1387.3,1002.7 1396.8,1009.2" fill="none" stroke="#77726d" stroke-width="1.7" stroke-linejoin="miter" />
<polyline points="1478.3,1002.3 1488.9,1008.2" fill="none" stroke="#77726d" stroke-width="1.7" stroke-linejoin="miter" />
<polyline points="1295.3,1031.7 1305.8,1025.6" fill="none" stroke="#77726d" stroke-width="1.7" stroke-linejoin="miter" />
<polyline points="1387.3,1031.2 1396.8,1025.7" fill="none" stroke="#77726d" stroke-width="1.7" stroke-linejoin="miter" />
<polyline points="1478.3,1030.3 1488.9,1024.7" fill="none" stroke="#77726d" stroke-width="1.7" stroke-linejoin="miter" />
<polyline points="1134.3,1016.0 1350.3,1014.9" fill="none" stroke="#8f8c88" stroke-width="1.0" stroke-linejoin="miter" />
<polyline points="1134.3,1020.0 1350.3,1018.9" fill="none" stroke="#8f8c88" stroke-width="1.0" stroke-linejoin="miter" />
<polyline points="1350.3,1014.9 1441.6,1014.5" fill="none" stroke="#8f8c88" stroke-width="1.0" stroke-linejoin="miter" />
<polyline points="1350.3,1018.9 1441.6,1018.5" fill="none" stroke="#8f8c88" stroke-width="1.0" stroke-linejoin="miter" />
<polyline points="1441.6,1014.5 1528.2,1014.0" fill="none" stroke="#8f8c88" stroke-width="1.0" stroke-linejoin="miter" />
<polyline points="1441.6,1018.5 1528.2,1018.0" fill="none" stroke="#8f8c88" stroke-width="1.0" stroke-linejoin="miter" />
<polyline points="1528.2,1014.0 1555.3,1013.9" fill="none" stroke="#8f8c88" stroke-width="1.0" stroke-linejoin="miter" />
<polyline points="1528.2,1018.0 1555.3,1017.9" fill="none" stroke="#8f8c88" stroke-width="1.0" stroke-linejoin="miter" />
<line x1="1350.3" y1="1011.9" x2="1350.3" y2="1021.9" stroke="#6f6c68" stroke-width="2.2" />
<line x1="1441.6" y1="1011.5" x2="1441.6" y2="1021.5" stroke="#6f6c68" stroke-width="2.2" />
<line x1="1528.2" y1="1011.0" x2="1528.2" y2="1021.0" stroke="#6f6c68" stroke-width="2.2" />
<polyline points="1134.3,1145.3 1295.3,1132.3 1305.8,1139.3 1387.3,1132.8 1396.8,1139.3 1478.3,1132.8 1488.9,1138.8 1555.3,1134.3" fill="none" stroke="#a29d97" stroke-width="1.3" stroke-linejoin="miter" />
<polyline points="1134.3,1148.3 1295.3,1161.3 1305.8,1155.3 1387.3,1161.3 1396.8,1155.8 1478.3,1160.8 1488.9,1155.3 1555.3,1158.3" fill="none" stroke="#a29d97" stroke-width="1.3" stroke-linejoin="miter" />
<polyline points="1295.3,1132.3 1305.8,1139.3" fill="none" stroke="#77726d" stroke-width="1.7" stroke-linejoin="miter" />
<polyline points="1387.3,1132.8 1396.8,1139.3" fill="none" stroke="#77726d" stroke-width="1.7" stroke-linejoin="miter" />
<polyline points="1478.3,1132.8 1488.9,1138.8" fill="none" stroke="#77726d" stroke-width="1.7" stroke-linejoin="miter" />
<polyline points="1295.3,1161.3 1305.8,1155.3" fill="none" stroke="#77726d" stroke-width="1.7" stroke-linejoin="miter" />
<polyline points="1387.3,1161.3 1396.8,1155.8" fill="none" stroke="#77726d" stroke-width="1.7" stroke-linejoin="miter" />
<polyline points="1478.3,1160.8 1488.9,1155.3" fill="none" stroke="#77726d" stroke-width="1.7" stroke-linejoin="miter" />
<polyline points="1134.3,1144.8 1350.3,1144.8" fill="none" stroke="#8f8c88" stroke-width="1.0" stroke-linejoin="miter" />
<polyline points="1134.3,1148.8 1350.3,1148.8" fill="none" stroke="#8f8c88" stroke-width="1.0" stroke-linejoin="miter" />
<polyline points="1350.3,1144.8 1441.6,1144.8" fill="none" stroke="#8f8c88" stroke-width="1.0" stroke-linejoin="miter" />
<polyline points="1350.3,1148.8 1441.6,1148.8" fill="none" stroke="#8f8c88" stroke-width="1.0" stroke-linejoin="miter" />
<polyline points="1441.6,1144.8 1528.2,1144.8" fill="none" stroke="#8f8c88" stroke-width="1.0" stroke-linejoin="miter" />
<polyline points="1441.6,1148.8 1528.2,1148.8" fill="none" stroke="#8f8c88" stroke-width="1.0" stroke-linejoin="miter" />
<polyline points="1528.2,1144.8 1555.3,1144.8" fill="none" stroke="#8f8c88" stroke-width="1.0" stroke-linejoin="miter" />
<polyline points="1528.2,1148.8 1555.3,1148.8" fill="none" stroke="#8f8c88" stroke-width="1.0" stroke-linejoin="miter" />
<line x1="1350.3" y1="1141.8" x2="1350.3" y2="1151.8" stroke="#6f6c68" stroke-width="2.2" />
<line x1="1441.6" y1="1141.8" x2="1441.6" y2="1151.8" stroke="#6f6c68" stroke-width="2.2" />
<line x1="1528.2" y1="1141.8" x2="1528.2" y2="1151.8" stroke="#6f6c68" stroke-width="2.2" />
<polyline points="1134.3,1254.5 1295.3,1240.1 1305.8,1247.0 1387.3,1239.7 1396.8,1246.1 1478.3,1238.9 1488.9,1244.8 1555.3,1239.7" fill="none" stroke="#a29d97" stroke-width="1.3" stroke-linejoin="miter" />
<polyline points="1134.3,1257.5 1295.3,1269.1 1305.8,1263.0 1387.3,1268.2 1396.8,1262.6 1478.3,1266.9 1488.9,1261.3 1555.3,1263.7" fill="none" stroke="#a29d97" stroke-width="1.3" stroke-linejoin="miter" />
<polyline points="1295.3,1240.1 1305.8,1247.0" fill="none" stroke="#77726d" stroke-width="1.7" stroke-linejoin="miter" />
<polyline points="1387.3,1239.7 1396.8,1246.1" fill="none" stroke="#77726d" stroke-width="1.7" stroke-linejoin="miter" />
<polyline points="1478.3,1238.9 1488.9,1244.8" fill="none" stroke="#77726d" stroke-width="1.7" stroke-linejoin="miter" />
<polyline points="1295.3,1269.1 1305.8,1263.0" fill="none" stroke="#77726d" stroke-width="1.7" stroke-linejoin="miter" />
<polyline points="1387.3,1268.2 1396.8,1262.6" fill="none" stroke="#77726d" stroke-width="1.7" stroke-linejoin="miter" />
<polyline points="1478.3,1266.9 1488.9,1261.3" fill="none" stroke="#77726d" stroke-width="1.7" stroke-linejoin="miter" />
<polyline points="1134.3,1254.0 1350.3,1252.1" fill="none" stroke="#8f8c88" stroke-width="1.0" stroke-linejoin="miter" />
<polyline points="1134.3,1258.0 1350.3,1256.1" fill="none" stroke="#8f8c88" stroke-width="1.0" stroke-linejoin="miter" />
<polyline points="1350.3,1252.1 1441.6,1251.2" fill="none" stroke="#8f8c88" stroke-width="1.0" stroke-linejoin="miter" />
<polyline points="1350.3,1256.1 1441.6,1255.2" fill="none" stroke="#8f8c88" stroke-width="1.0" stroke-linejoin="miter" />
<polyline points="1441.6,1251.2 1528.2,1250.5" fill="none" stroke="#8f8c88" stroke-width="1.0" stroke-linejoin="miter" />
<polyline points="1441.6,1255.2 1528.2,1254.5" fill="none" stroke="#8f8c88" stroke-width="1.0" stroke-linejoin="miter" />
<polyline points="1528.2,1250.5 1555.3,1250.2" fill="none" stroke="#8f8c88" stroke-width="1.0" stroke-linejoin="miter" />
<polyline points="1528.2,1254.5 1555.3,1254.2" fill="none" stroke="#8f8c88" stroke-width="1.0" stroke-linejoin="miter" />
<line x1="1350.3" y1="1249.1" x2="1350.3" y2="1259.1" stroke="#6f6c68" stroke-width="2.2" />
<line x1="1441.6" y1="1248.2" x2="1441.6" y2="1258.2" stroke="#6f6c68" stroke-width="2.2" />
<line x1="1528.2" y1="1247.5" x2="1528.2" y2="1257.5" stroke="#6f6c68" stroke-width="2.2" />
<polyline points="1134.3,1361.5 1295.3,1347.5 1305.8,1354.5 1387.3,1347.5 1396.8,1353.9 1478.3,1346.9 1488.9,1352.9 1555.3,1348.0" fill="none" stroke="#a29d97" stroke-width="1.3" stroke-linejoin="miter" />
<polyline points="1134.3,1364.5 1295.3,1376.5 1305.8,1370.5 1387.3,1376.0 1396.8,1370.4 1478.3,1374.9 1488.9,1369.4 1555.3,1372.0" fill="none" stroke="#a29d97" stroke-width="1.3" stroke-linejoin="miter" />
<polyline points="1295.3,1347.5 1305.8,1354.5" fill="none" stroke="#77726d" stroke-width="1.7" stroke-linejoin="miter" />
<polyline points="1387.3,1347.5 1396.8,1353.9" fill="none" stroke="#77726d" stroke-width="1.7" stroke-linejoin="miter" />
<polyline points="1478.3,1346.9 1488.9,1352.9" fill="none" stroke="#77726d" stroke-width="1.7" stroke-linejoin="miter" />
<polyline points="1295.3,1376.5 1305.8,1370.5" fill="none" stroke="#77726d" stroke-width="1.7" stroke-linejoin="miter" />
<polyline points="1387.3,1376.0 1396.8,1370.4" fill="none" stroke="#77726d" stroke-width="1.7" stroke-linejoin="miter" />
<polyline points="1478.3,1374.9 1488.9,1369.4" fill="none" stroke="#77726d" stroke-width="1.7" stroke-linejoin="miter" />
<polyline points="1134.3,1361.0 1350.3,1359.7" fill="none" stroke="#8f8c88" stroke-width="1.0" stroke-linejoin="miter" />
<polyline points="1134.3,1365.0 1350.3,1363.7" fill="none" stroke="#8f8c88" stroke-width="1.0" stroke-linejoin="miter" />
<polyline points="1350.3,1359.7 1441.6,1359.2" fill="none" stroke="#8f8c88" stroke-width="1.0" stroke-linejoin="miter" />
<polyline points="1350.3,1363.7 1441.6,1363.2" fill="none" stroke="#8f8c88" stroke-width="1.0" stroke-linejoin="miter" />
<polyline points="1441.6,1359.2 1528.2,1358.6" fill="none" stroke="#8f8c88" stroke-width="1.0" stroke-linejoin="miter" />
<polyline points="1441.6,1363.2 1528.2,1362.6" fill="none" stroke="#8f8c88" stroke-width="1.0" stroke-linejoin="miter" />
<polyline points="1528.2,1358.6 1555.3,1358.5" fill="none" stroke="#8f8c88" stroke-width="1.0" stroke-linejoin="miter" />
<polyline points="1528.2,1362.6 1555.3,1362.5" fill="none" stroke="#8f8c88" stroke-width="1.0" stroke-linejoin="miter" />
<line x1="1350.3" y1="1356.7" x2="1350.3" y2="1366.7" stroke="#6f6c68" stroke-width="2.2" />
<line x1="1441.6" y1="1356.2" x2="1441.6" y2="1366.2" stroke="#6f6c68" stroke-width="2.2" />
<line x1="1528.2" y1="1355.6" x2="1528.2" y2="1365.6" stroke="#6f6c68" stroke-width="2.2" />
<polyline points="1134.3,1479.8 1295.3,1461.4 1305.8,1468.0 1387.3,1458.8 1396.8,1465.0 1478.3,1455.7 1488.9,1461.4 1555.3,1454.7" fill="none" stroke="#a29d97" stroke-width="1.3" stroke-linejoin="miter" />
<polyline points="1134.3,1482.8 1295.3,1490.4 1305.8,1484.0 1387.3,1487.3 1396.8,1481.5 1478.3,1483.7 1488.9,1477.9 1555.3,1478.7" fill="none" stroke="#a29d97" stroke-width="1.3" stroke-linejoin="miter" />
<polyline points="1295.3,1461.4 1305.8,1468.0" fill="none" stroke="#77726d" stroke-width="1.7" stroke-linejoin="miter" />
<polyline points="1387.3,1458.8 1396.8,1465.0" fill="none" stroke="#77726d" stroke-width="1.7" stroke-linejoin="miter" />
<polyline points="1478.3,1455.7 1488.9,1461.4" fill="none" stroke="#77726d" stroke-width="1.7" stroke-linejoin="miter" />
<polyline points="1295.3,1490.4 1305.8,1484.0" fill="none" stroke="#77726d" stroke-width="1.7" stroke-linejoin="miter" />
<polyline points="1387.3,1487.3 1396.8,1481.5" fill="none" stroke="#77726d" stroke-width="1.7" stroke-linejoin="miter" />
<polyline points="1478.3,1483.7 1488.9,1477.9" fill="none" stroke="#77726d" stroke-width="1.7" stroke-linejoin="miter" />
<polyline points="1134.3,1479.3 1350.3,1472.0" fill="none" stroke="#8f8c88" stroke-width="1.0" stroke-linejoin="miter" />
<polyline points="1134.3,1483.3 1350.3,1476.0" fill="none" stroke="#8f8c88" stroke-width="1.0" stroke-linejoin="miter" />
<polyline points="1350.3,1472.0 1441.6,1469.0" fill="none" stroke="#8f8c88" stroke-width="1.0" stroke-linejoin="miter" />
<polyline points="1350.3,1476.0 1441.6,1473.0" fill="none" stroke="#8f8c88" stroke-width="1.0" stroke-linejoin="miter" />
<polyline points="1441.6,1469.0 1528.2,1466.1" fill="none" stroke="#8f8c88" stroke-width="1.0" stroke-linejoin="miter" />
<polyline points="1441.6,1473.0 1528.2,1470.1" fill="none" stroke="#8f8c88" stroke-width="1.0" stroke-linejoin="miter" />
<polyline points="1528.2,1466.1 1555.3,1465.2" fill="none" stroke="#8f8c88" stroke-width="1.0" stroke-linejoin="miter" />
<polyline points="1528.2,1470.1 1555.3,1469.2" fill="none" stroke="#8f8c88" stroke-width="1.0" stroke-linejoin="miter" />
<line x1="1350.3" y1="1469.0" x2="1350.3" y2="1479.0" stroke="#6f6c68" stroke-width="2.2" />
<line x1="1441.6" y1="1466.0" x2="1441.6" y2="1476.0" stroke="#6f6c68" stroke-width="2.2" />
<line x1="1528.2" y1="1463.1" x2="1528.2" y2="1473.1" stroke="#6f6c68" stroke-width="2.2" />
<ellipse cx="1386" cy="904" rx="33" ry="18" fill="#8c8786" opacity="0.55" filter="url(#blur6)"/>
<ellipse cx="1405.5" cy="911.4" rx="27.5" ry="22.6" fill="#a39fa4" filter="url(#blur05)"/>
<ellipse cx="1399" cy="903" rx="16" ry="11" fill="#bab6ba" filter="url(#blur3)"/>
<ellipse cx="1413" cy="923" rx="17" ry="8" fill="#8d898e" filter="url(#blur3)"/>
<path d="M1381,897 Q1377,911 1383,925" fill="none" stroke="#dedad8" stroke-width="2.5" filter="url(#blur1)"/>
<path d="M1379,908.3 Q1405,907.5 1433,908.8" fill="none" stroke="#6d696c" stroke-width="1.6"/>
<rect x="1427" y="911" width="5" height="8" fill="#f2f2f0"/>
<ellipse cx="1268" cy="1016" rx="26" ry="19" fill="#8a7f74" opacity="0.55" filter="url(#blur6)"/>
<ellipse cx="1295.5" cy="1018" rx="26" ry="24.8" fill="#a2937a" filter="url(#blur05)"/>
<ellipse cx="1305" cy="1008" rx="15" ry="10" fill="#ada08a" filter="url(#blur3)"/>
<ellipse cx="1281" cy="1016" rx="9" ry="19" fill="#dac592" filter="url(#blur3)"/>
<path d="M1262,1017 Q1290,1016 1321,1017.5" fill="none" stroke="#6e6252" stroke-width="1.5"/>
<rect x="1315" y="1019" width="5" height="8" fill="#f6f3ea"/>
<ellipse cx="1252" cy="1143" rx="24" ry="19" fill="#8e8078" opacity="0.6" filter="url(#blur6)"/>
<ellipse cx="1280.1" cy="1148.8" rx="26" ry="23" fill="#94642f" filter="url(#blur05)"/>
<ellipse cx="1268" cy="1145" rx="12" ry="19" fill="#c98a40" filter="url(#blur3)"/>
<ellipse cx="1290" cy="1161" rx="14" ry="7" fill="#7a5a32" filter="url(#blur3)"/>
<path d="M1254,1147 Q1280,1146 1306,1147.5" fill="none" stroke="#5a3a1e" stroke-width="1.4"/>
<rect x="1299" y="1149" width="4" height="7" fill="#f6eee0"/>
<ellipse cx="1140" cy="1254" rx="22" ry="26" fill="#8c8a88" opacity="0.8" filter="url(#blur6)"/>
<circle cx="1157.4" cy="1258.5" r="27.4" fill="#ebe5d3"/>
<circle cx="1160" cy="1256" r="20" fill="#f1ecdc" filter="url(#blur3)"/>
<ellipse cx="1143" cy="1360" rx="20" ry="24" fill="#8e8b88" opacity="0.8" filter="url(#blur6)"/>
<circle cx="1158.6" cy="1364.7" r="25.5" fill="#3b2329"/>
<circle cx="1160" cy="1366" r="14" fill="#4a3a3c" filter="url(#blur3)"/>
<rect x="1151" y="1350" width="9" height="2.5" fill="#f0e8ea"/>
<rect x="1151" y="1376" width="8" height="2.5" fill="#e8e0e2"/>
<rect x="1177" y="1363" width="4" height="8" fill="#f4f0f0"/>
<circle cx="1152.6" cy="1477.8" r="34.7" fill="#cfcfcd"/>
<circle cx="1152.6" cy="1477.8" r="34.2" fill="none" stroke="#a4a4a2" stroke-width="2.2" filter="url(#blur1)"/>
<circle cx="1156" cy="1474" r="24" fill="#dcdcda" filter="url(#blur3)"/>
<path d="M1124,1458 A33.3,33.3 0 0 0 1125,1498" fill="none" stroke="#8e8c8a" stroke-width="3" filter="url(#blur1)"/>
<rect x="1133" y="1478" width="51" height="6.5" fill="none" stroke="#9a9896" stroke-width="1.3"/>
<rect x="1181" y="1475" width="4" height="10" fill="#f6f4ee"/>
<path d="M1158,1493 L1154,1498" stroke="#8a8886" stroke-width="2.5"/>
<text transform="translate(1305.9,967.0) scale(0.975,1)" font-size="31.28" text-anchor="start" fill="#000" >1.5 s</text>
<line x1="1361.8" y1="935.4" x2="1376.8" y2="921.6" stroke="#000" stroke-width="2.0" />
<polyline points="1368.5,921.3 1377.6,920.8 1377.2,929.6" fill="none" stroke="#000" stroke-width="2.0"/>
<line x1="1329.0" y1="974.3" x2="1314.0" y2="989.2" stroke="#000" stroke-width="2.0" />
<polyline points="1313.6,980.8 1313.1,990.1 1322.0,989.6" fill="none" stroke="#000" stroke-width="2.0"/>
<text transform="translate(1329.1,1144.9) scale(0.975,1)" font-size="31.38" text-anchor="start" fill="#000" >Final position</text>
<text transform="translate(1200.9,1506.5) scale(0.975,1)" font-size="31.28" text-anchor="start" fill="#e8262a" >Oil drop</text>
<text transform="translate(1085.5,906.5) rotate(-90) scale(0.975,1)" font-size="38.26" text-anchor="middle" fill="#000" >72</text>
<text transform="translate(1085.5,1009.0) rotate(-90) scale(0.975,1)" font-size="38.26" text-anchor="middle" fill="#000" >65.7</text>
<text transform="translate(1085.5,1134.7) rotate(-90) scale(0.975,1)" font-size="38.26" text-anchor="middle" fill="#000" >49.3</text>
<text transform="translate(1085.5,1246.8) rotate(-90) scale(0.975,1)" font-size="38.26" text-anchor="middle" fill="#000" >40.5</text>
<text transform="translate(1085.5,1356.0) rotate(-90) scale(0.975,1)" font-size="38.26" text-anchor="middle" fill="#000" >30.1</text>
<text transform="translate(1085.5,1465.4) rotate(-90) scale(0.975,1)" font-size="38.26" text-anchor="middle" fill="#000" >28.2</text>
<text transform="translate(1026.6,1203.6) rotate(-90) scale(0.975,1)" font-size="40.00" text-anchor="middle" fill="#000" >Surface tension/(mN&#183;m<tspan dy="-13" font-size="23.59" font-weight="normal">&#8722;1</tspan><tspan dy="13">)</tspan></text>
<text transform="translate(1644.0,928.6) scale(0.975,1)" font-size="40.00" text-anchor="middle" fill="#000" >Water</text>
<text transform="translate(1643.5,1028.2) scale(0.975,1)" font-size="40.00" text-anchor="middle" fill="#000" >Tea</text>
<text transform="translate(1644.0,1164.5) scale(0.975,1)" font-size="40.00" text-anchor="middle" fill="#000" >Coke</text>
<text transform="translate(1644.5,1266.3) scale(0.975,1)" font-size="40.00" text-anchor="middle" fill="#000" >Milk</text>
<text transform="translate(1638.4,1347.9) scale(0.975,1)" font-size="40.00" text-anchor="middle" fill="#000" >Soya</text>
<text transform="translate(1643.2,1383.2) scale(0.975,1)" font-size="40.00" text-anchor="middle" fill="#000" >sauce</text>
<text transform="translate(1643.8,1487.9) scale(0.975,1)" font-size="40.00" text-anchor="middle" fill="#000" >Lube oil</text>
<text transform="translate(1678.7,890.9) scale(0.975,1)" font-size="40.00" text-anchor="start" fill="#5b8a3d" >Excellent</text>
<text transform="translate(1719.5,1530.3) scale(0.975,1)" font-size="40.51" text-anchor="start" fill="#e8262a" >Poor</text>
<polygon points="1757,907.2 1787.4,946.5 1775.1,946.5 1763.1,1471 1750.6,1471 1738.8,946.5 1726.7,946.5" fill="url(#garrow)"/>
<text transform="translate(1836.4,1171.0) rotate(-90) scale(0.975,1)" font-size="39.79" text-anchor="middle" fill="#3d77b3" >Transport performance</text>
</svg>
</body></html>
